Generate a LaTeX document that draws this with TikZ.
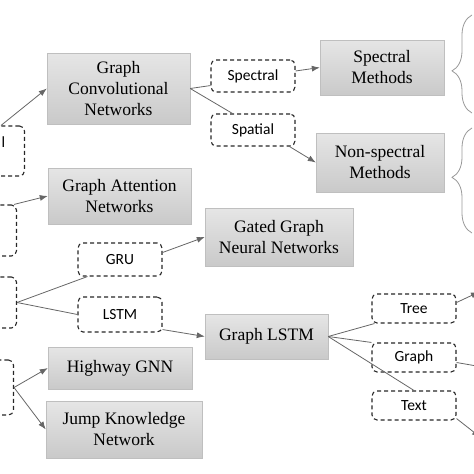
\documentclass[tikz,border=0pt]{standalone}
\usepackage{fontspec}
\setmainfont{Liberation Serif}
\newfontfamily\boxfont{Liberation Serif}
\newfontfamily\labelfont{Carlito}
\usetikzlibrary{arrows.meta, decorations.pathreplacing}
\tikzstyle{model} = [rectangle, text centered, align=center, inner sep=0pt,
  top color=gray!20, bottom color=gray!42, draw=gray!50,
  font=\boxfont\fontsize{17.5}{21}\selectfont]
\tikzstyle{choice} = [rectangle, rounded corners=5pt, text centered, inner sep=0pt,
  draw=black!85, line width=1.1pt, dash pattern=on 4pt off 3pt,
  font=\labelfont\fontsize{15.5}{18}\selectfont]
\tikzstyle{link} = [draw=black!60, line width=0.8pt]
\tikzstyle{arrow} = [link, -{Latex[length=8pt, width=6pt]}]
\tikzstyle{bracket} = [draw=gray!80, line width=0.8pt, decorate,
  decoration={brace, amplitude=20pt}]

\begin{document}
\begin{tikzpicture}[x=1pt, y=-1pt]
\useasboundingbox (0,0) rectangle (474,474);
\clip (0,0) rectangle (474,474);

%% nodes
\node (gcn) [model, minimum width=143, minimum height=71] at (118.5,88.5)
      {Graph\\Convolutional\\Networks};
\node (gat) [model, minimum width=143, minimum height=56] at (119.5,196)
      {Graph Attention\\Networks};
\node (ggnn) [model, minimum width=148, minimum height=58] at (279,237)
      {Gated Graph\\Neural Networks};
\node (glstm) [model, minimum width=123, minimum height=45] at (266.5,336.5)
      {Graph LSTM};
\node (hwgnn) [model, minimum width=144, minimum height=42] at (120,368)
      {Highway GNN};
\node (jkn) [model, minimum width=156, minimum height=57] at (124,429.5)
      {Jump Knowledge\\Network};
\node (specMethods) [model, minimum width=124, minimum height=55] at (382,67.5)
      {Spectral\\Methods};
\node (nonspecMethods) [model, minimum width=128, minimum height=59] at (380,162.5)
      {Non-spectral\\Methods};

\node (spectral) [choice, minimum width=84, minimum height=32] at (253,76) {Spectral};
\node (spatial) [choice, minimum width=84, minimum height=32] at (253,130) {Spatial};
\node (gru) [choice, minimum width=84, minimum height=33] at (120,259.5) {GRU};
\node (lstm) [choice, minimum width=84, minimum height=35] at (120,314.5) {LSTM};
\node (tree) [choice, minimum width=84, minimum height=29] at (414,308.5) {Tree};
\node (graph) [choice, minimum width=84, minimum height=29] at (414,357.5) {Graph};
\node (text) [choice, minimum width=84, minimum height=29] at (414,405.5) {Text};

\node (conv) [choice, anchor=east, minimum width=100, minimum height=50] at (25,151) {};
\node (convText) [anchor=base west, font=\labelfont\fontsize{15.5}{18}\selectfont,
      inner sep=0pt] at (1.5,147) {l};
\node (attn) [choice, anchor=east, minimum width=60, minimum height=51] at (17,230.5) {};
\node (gate) [choice, anchor=east, minimum width=60, minimum height=51] at (17,302.5) {};
\node (skip) [choice, anchor=east, minimum width=60, minimum height=55] at (14,387.5) {};

\coordinate (treeOut) at (479,292);
\coordinate (graphOut) at (494,369);
\coordinate (textOut) at (480,437);

%% paths
\draw [arrow] ([xshift=-24pt]conv.north east) -- (gcn.west);
\draw [arrow] ([xshift=-3pt]attn.north east) -- (gat.west);
\draw [link] (gate.east) -- ([xshift=10pt]gru.south west);
\draw [link] (gate.east) -- (lstm.west);
\draw [arrow] (skip.east) -- (hwgnn.west);
\draw [arrow] (skip.east) -- (jkn.west);
\draw [link] (gcn.east) -- ([yshift=7pt]spectral.south west);
\draw [link] (gcn.east) -- ([xshift=22pt]spatial.north west);
\draw [arrow] ([yshift=5pt]spectral.east) -- (specMethods.west);
\draw [arrow] ([xshift=-6pt]spatial.south east) -- (nonspecMethods.west);
\draw [arrow] ([yshift=7pt]gru.east) -- (ggnn.west);
\draw [arrow] ([yshift=3pt]lstm.south east) -- (glstm.west);
\draw [link] (glstm.east) -- ([xshift=3pt]tree.south west);
\draw [link] (glstm.east) -- (graph.north west);
\draw [link] (glstm.east) -- (text.north);
\draw [arrow] ([yshift=6pt]tree.east) -- (treeOut);
\draw [arrow] ([yshift=-5pt]graph.east) -- (graphOut);
\draw [arrow] ([yshift=2pt]text.south east) -- (textOut);

%% braces
\draw [bracket, decoration={aspect=0.43}] (472,113) -- (472,15);
\draw [bracket, decoration={aspect=0.53}] (472,233) -- (472,128);

\end{tikzpicture}
\end{document}
